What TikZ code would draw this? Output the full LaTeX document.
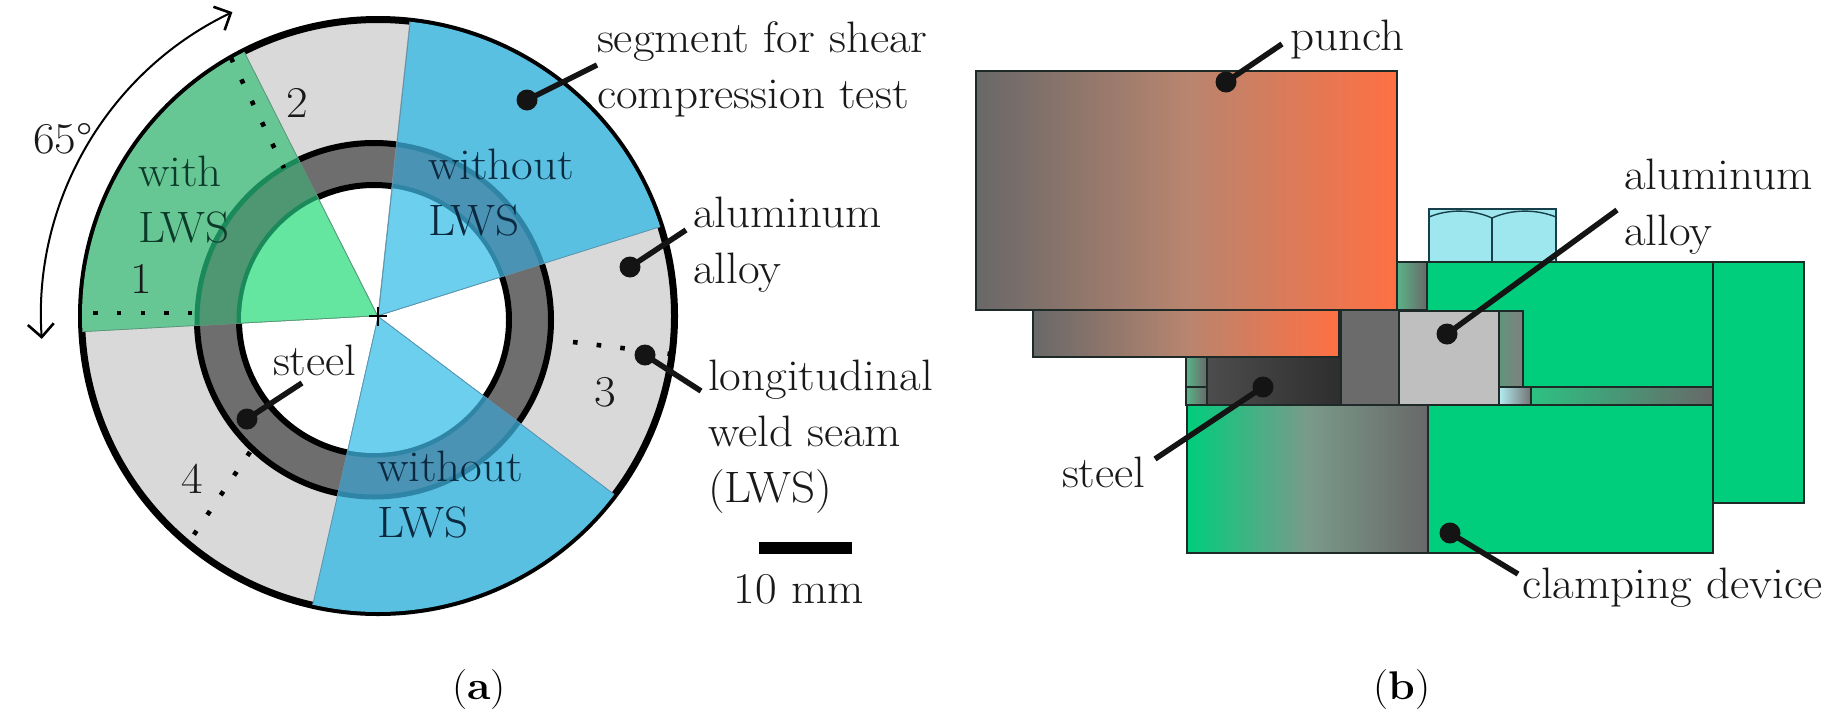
\documentclass[tikz,border=0pt]{standalone}
\usepackage{fontspec}
\setmainfont{Latin Modern Roman}[FakeStretch=1.07]
\usetikzlibrary{arrows.meta}
\definecolor{clampgreen}{HTML}{00CE7C}
\definecolor{orangeP}{HTML}{FF7043}
\definecolor{midP}{HTML}{B8856F}
\definecolor{greyP}{HTML}{686868}
\definecolor{gradG}{HTML}{5AB488}
\definecolor{gradM}{HTML}{7A9A8A}
\definecolor{lgrey}{HTML}{D9D9D9}
\definecolor{ringgrey}{HTML}{6E6E6E}
\definecolor{edgedark}{HTML}{1E2A28}
\definecolor{nutblue}{HTML}{9FE7EF}
\definecolor{nutedge}{HTML}{17404A}
\definecolor{darkgreen}{HTML}{0D3B2A}
\definecolor{darkblue}{HTML}{0B2A40}
\newcommand{\segm}[8]{%
  \begin{scope}
    \clip (378,316) -- ++(#1:296) arc (#1:#2:296) -- cycle;
    \fill[#3] (378,316) circle (300);
    \fill[#4] (374,320) circle (177);
    \draw[#5,line width=5pt] (374,320) circle (177);
    \draw[#5,line width=5pt] (374,320) circle (135);
    \fill[#6] (374,320) circle (133);
    \draw[#7,line width=#8] (378,316) -- ++(#1:296);
    \draw[#7,line width=#8] (378,316) -- ++(#2:296);
  \end{scope}}
\definecolor{blO}{HTML}{5AC0E2}
\definecolor{blR}{HTML}{4A93B5}
\definecolor{blS}{HTML}{2F85A6}
\definecolor{blI}{HTML}{6CCFEE}
\definecolor{blE}{HTML}{5E8EA6}
\definecolor{grO}{HTML}{66C795}
\definecolor{grR}{HTML}{4F9672}
\definecolor{grS}{HTML}{1B8A5A}
\definecolor{grI}{HTML}{64E6A0}
\definecolor{grE}{HTML}{5F8F78}
\tikzset{
  lbl/.style={inner sep=0pt,outer sep=0pt,text=black!90,font=\fontsize{44}{56}\selectfont,align=left},
  capt/.style={inner sep=0pt,outer sep=0pt,text=black,font=\fontsize{40}{46}\selectfont},
  leaderdot/.style={circle,fill=black!92,inner sep=0pt,minimum size=21pt},
  leaderline/.style={black!92,line width=5.5pt},
  part/.style={draw=edgedark,line width=1.6pt},
  dotted1/.style={black,line width=4.6pt,dash pattern=on 4.6pt off 19.2pt}
}
\begin{document}
\begin{tikzpicture}[x=1pt,y=-1pt]
\useasboundingbox (0,0) rectangle (1835,718);
\fill[white] (0,0) rectangle (1835,718);
% ---------- panel a: disc
\fill[lgrey] (378,316) circle (296);
\draw[black,line width=7pt] (378,316) circle (296.5);
\fill[ringgrey] (374,320) circle (177);
\fill[white] (374,320) circle (135);
\draw[black,line width=6pt] (374,320) circle (177);
\draw[black,line width=6pt] (374,320) circle (135);
\draw[gray!80,line width=1pt] (378,316) -- ++(-83.8:296);
\segm{-116.8}{-183.1}{grO}{grR}{grS}{grI}{grE}{1.4pt}
\segm{-17.5}{-83.8}{blO}{blR}{blS}{blI}{blE}{1.4pt}
\segm{37}{102.8}{blO}{blR}{blS}{blI}{blE}{1.4pt}
% weld seam dots
\coordinate (s1a) at (93,313); \coordinate (s1b) at (192,313);
\coordinate (s2a) at (231,58); \coordinate (s2b) at (284,168);
\coordinate (s3a) at (573,342); \coordinate (s3b) at (671,354);
\coordinate (s4a) at (250,452); \coordinate (s4b) at (193,536);
\draw[dotted1] (s1a) -- (s1b);
\draw[dotted1] (s2a) -- (s2b);
\draw[dotted1] (s3a) -- (s3b);
\draw[dotted1] (s4a) -- (s4b);
% centre cross
\coordinate (cW) at (369,316); \coordinate (cE) at (387,316);
\coordinate (cN) at (378,307); \coordinate (cS) at (378,326);
\draw[black,line width=1.6pt] (cW) -- (cE);
\draw[black,line width=1.6pt] (cN) -- (cS);
% angle arrow
\draw[black,line width=2pt,{Straight Barb[length=13pt,width=26pt,line width=2.6pt]}-{Straight Barb[length=13pt,width=26pt,line width=2.6pt]}]
  (378,316) ++(-183.9:337) arc (-183.9:-115.6:337);
% labels panel a
\node[lbl,anchor=base west] (t65) at (33,153) {65°};
\node[lbl,anchor=base] (n1) at (141,293) {1};
\node[lbl,anchor=base] (n2) at (297,117) {2};
\node[lbl,anchor=base] (n3) at (605,406) {3};
\node[lbl,anchor=base] (n4) at (192,493) {4};
\node[lbl,anchor=west,text=darkgreen] (withl) at (138,200) {with\\LWS};
\node[lbl,anchor=west,text=darkblue] (wo1) at (428,193) {without\\LWS};
\node[lbl,anchor=west,text=darkblue] (wo2) at (377,495) {without\\LWS};
\node[lbl,anchor=base west] (ts) at (273,375) {steel};
\node[lbl,anchor=west] (tseg) at (597,69) {segment for shear\\compression test};
\node[lbl,anchor=west] (tal) at (693,245) {aluminum\\alloy};
\node[lbl,anchor=west] (tlong) at (708,437) {longitudinal\\weld seam\\(LWS)};
\node[lbl,anchor=base] (t10) at (799,603) {10 mm};
\coordinate (barL) at (759,547.5); \coordinate (barR) at (852,547.5);
\draw[black,line width=12pt] (barL) -- (barR);
% leaders panel a
\node[leaderdot] (dseg) at (527,100) {}; \coordinate (eseg) at (597,65);
\draw[leaderline] (dseg.center) -- (eseg);
\node[leaderdot] (dal) at (630,267) {}; \coordinate (eal) at (686,230);
\draw[leaderline] (dal.center) -- (eal);
\node[leaderdot] (dlong) at (645,355) {}; \coordinate (elong) at (701,391);
\draw[leaderline] (dlong.center) -- (elong);
\node[leaderdot] (dst) at (247,419) {}; \coordinate (est) at (302,383);
\draw[leaderline] (dst.center) -- (est);
% ---------- panel b
% nut
\fill[nutblue] (1429,209) rectangle (1556,262);
\draw[nutedge,line width=1.6pt] (1429,209) rectangle (1556,262);
\draw[nutedge,line width=1.6pt] (1492,218) -- (1492,262);
\draw[nutedge,line width=1.4pt] (1429,217) .. controls (1448,209) and (1472,209) .. (1492,218);
\draw[nutedge,line width=1.4pt] (1492,218) .. controls (1512,209) and (1536,209) .. (1556,217);
% clamping blocks
\path[part,fill=clampgreen] (1713,262) rectangle (1804,503);
\path[part,fill=clampgreen] (1427,262) rectangle (1713,405);
\path[part,left color=gradG,right color=greyP] (1397,262) rectangle (1427,310);
\path[part,left color=clampgreen,right color=greyP,middle color=gradM] (1187,405) rectangle (1428,553);
\path[part,fill=clampgreen] (1428,405) rectangle (1713,553);
% punch
\path[part,left color=greyP,right color=orangeP,middle color=midP] (976,71) rectangle (1397,310);
\path[part,left color=greyP,right color=orangeP,middle color=midP] (1033,310) rectangle (1339,357);
% specimen and small pieces
\path[part,left color=gradG,right color=greyP] (1186,357) rectangle (1207,387);
\path[part,left color=gradG,right color=greyP] (1186,387) rectangle (1207,405);
\path[part,left color=black!70,right color=black!82] (1207,357) rectangle (1341,405);
\path[part,fill=black!58] (1341,310) rectangle (1399,405);
\path[part,fill=black!25] (1399,311) rectangle (1499,405);
\path[part,left color=gradG!60!greyP,right color=black!50] (1499,311) rectangle (1523,387);
\path[part,left color=nutblue!80!white,right color=black!55] (1499,387) rectangle (1531,405);
\path[part,left color=gradG!50!clampgreen,right color=greyP] (1531,387) rectangle (1713,405);
% leaders panel b
\node[leaderdot] (dpun) at (1226,82) {}; \coordinate (epun) at (1282,44);
\draw[leaderline] (dpun.center) -- (epun);
\node[leaderdot] (dalb) at (1447,334) {}; \coordinate (ealb) at (1617,210);
\draw[leaderline] (dalb.center) -- (ealb);
\node[leaderdot] (dstb) at (1263,387) {}; \coordinate (estb) at (1155,459);
\draw[leaderline] (dstb.center) -- (estb);
\node[leaderdot] (dcl) at (1450,533) {}; \coordinate (ecl) at (1518,574);
\draw[leaderline] (dcl.center) -- (ecl);
\node[lbl,anchor=base west] (tpun) at (1290,50) {punch};
\node[lbl,anchor=west] (talb) at (1624,207) {aluminum\\alloy};
\node[lbl,anchor=base west] (tstb) at (1062,487) {steel};
\node[lbl,anchor=base west] (tcl) at (1522,598) {clamping device};
% captions
\node[capt,anchor=base] (capa) at (479,699) {(\textbf{a})};
\node[capt,anchor=base] (capb) at (1402,699) {(\textbf{b})};
\end{tikzpicture}
\end{document}
